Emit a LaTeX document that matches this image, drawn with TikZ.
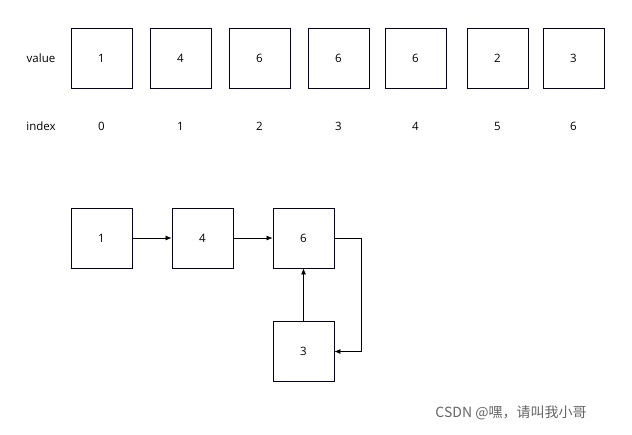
\documentclass[tikz,border=0pt]{standalone}
\usepackage{fontspec}
\setmainfont{Open Sans}
\newfontfamily\cjk{Noto Sans CJK SC}
\usetikzlibrary{arrows.meta}
\begin{document}
\begin{tikzpicture}[x=1pt,y=-1pt,
  cell/.style={draw=black!80!blue,line width=0.8pt,minimum width=61pt,minimum height=60pt,inner sep=0pt,font=\fontsize{11.5}{13}\selectfont},
  lbl/.style={font=\fontsize{11.5}{13}\selectfont},
  arr/.style={-{Latex[length=6pt,width=5pt]},line width=0.7pt}]
\useasboundingbox[fill=white] (0,0) rectangle (632,434);
\node[lbl] (value) at (41,58) {value};
\node[lbl] (index) at (41,126) {index};
\foreach \x/\v/\i [count=\k] in {101.5/1/0,180.5/4/1,259.5/6/2,338.5/6/3,415.5/6/4,497.5/2/5,573.5/3/6}{
  \node[cell] (t\k) at (\x,58) {\v};
  \node[lbl] (i\k) at (\x,126) {\i};
}
\node[cell] (b1) at (101.5,238) {1};
\node[cell] (b4) at (202.5,238) {4};
\node[cell] (b6) at (303.5,238) {6};
\node[cell] (b3) at (303.5,351.5) {3};
\coordinate (c1) at (361,238);
\coordinate (c2) at (361,351.5);
\draw[arr] (b1) -- (b4);
\draw[arr] (b4) -- (b6);
\draw[arr] (b6.east) -- (c1) -- (c2) -- (b3.east);
\draw[arr] (b3) -- (b6);
\node[font=\cjk\fontsize{14}{16}\selectfont,text=black!60] (wm) at (511,413) {CSDN @嘿，请叫我小哥};
\end{tikzpicture}
\end{document}
